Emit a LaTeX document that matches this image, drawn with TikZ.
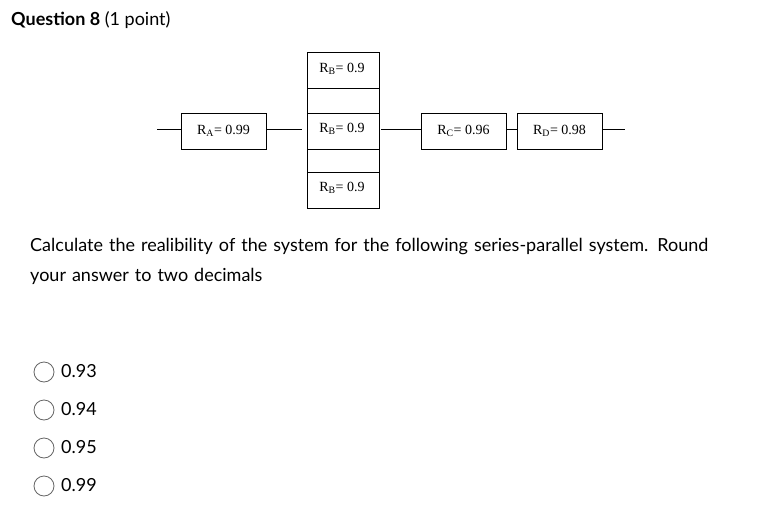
\documentclass[tikz,border=0pt]{standalone}
\usepackage{fontspec}
\setmainfont{Lato}
\newfontfamily\tms{Liberation Serif}
\begin{document}
\begin{tikzpicture}[x=1pt,y=-1pt,
  ln/.style={line width=0.9pt},
  lbl/.style={font=\tms\fontsize{14}{16}\selectfont,anchor=center},
  txt/.style={font=\fontsize{18}{30}\selectfont,anchor=west,inner sep=0pt},
  opt/.style={draw=black!60,line width=0.8pt,circle,minimum size=20pt,inner sep=0pt}]
\useasboundingbox[fill=white] (0,0) rectangle (774,525);
\node[txt,anchor=base west] (q) at (11,25) {\textbf{Question 8} (1 point)};
% column B
\draw[ln] (307,52) rectangle (379,208);
\foreach \yy in {88,113,149,172} \draw[ln] (307,\yy) -- (379,\yy);
\node[lbl] (b1) at (342,69) {R\textsubscript{B}= 0.9};
\node[lbl] (b2) at (342,129) {R\textsubscript{B}= 0.9};
\node[lbl] (b3) at (342,188) {R\textsubscript{B}= 0.9};
\node[draw,ln,minimum width=85pt,minimum height=36pt,lbl] (a) at (223.5,131) {\raisebox{2pt}{R\textsubscript{A}= 0.99}};
\node[draw,ln,minimum width=85pt,minimum height=36pt,lbl] (c) at (463.5,131) {\raisebox{2pt}{R\textsubscript{C}= 0.96}};
\node[draw,ln,minimum width=85pt,minimum height=36pt,lbl] (d) at (559.5,131) {\raisebox{2pt}{R\textsubscript{D}= 0.98}};
\coordinate (s) at (157,129); \coordinate (e) at (625,129);
\coordinate (bl) at (302,129); \coordinate (br) at (381,129);
\draw[ln] (s) -- (a.west|-s);
\draw[ln] (a.east|-s) -- (bl);
\draw[ln] (br) -- (c.west|-br);
\draw[ln] (c.east|-br) -- (d.west|-br);
\draw[ln] (d.east|-e) -- (e);
\node[txt,anchor=base west,text width=730pt,align=left] (p) at (30,251) {Calculate the realibility of the system for the following series-parallel system. Round\\ your answer to two decimals};
\foreach \v/\yy [count=\i] in {0.93/372,0.94/410,0.95/448,0.99/486}{
  \node[opt] (o\i) at (44,\yy) {};
  \node[txt] (t\i) at (61,\yy-1) {\v};
}
\end{tikzpicture}
\end{document}
